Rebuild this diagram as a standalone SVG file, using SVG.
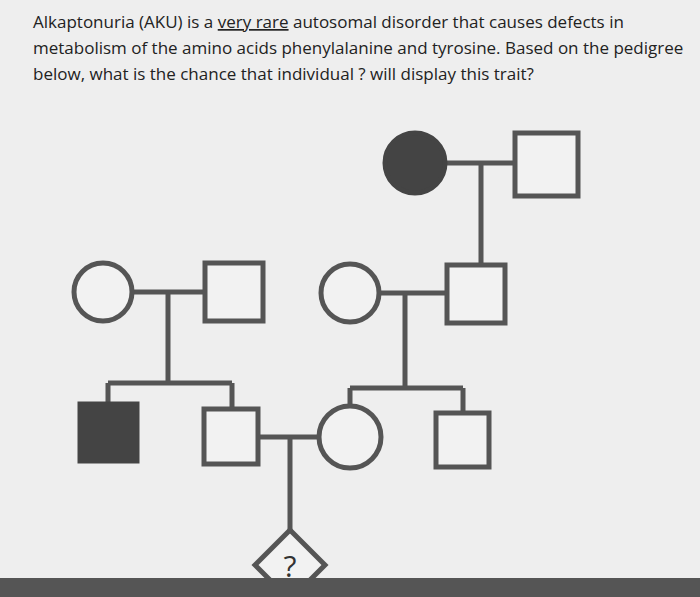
<svg xmlns="http://www.w3.org/2000/svg" width="700" height="597" viewBox="0 0 700 597">
<style>
.t{font-family:"Open Sans","Liberation Sans",sans-serif;font-size:17px;fill:#222}
.s{fill:#f2f2f2;stroke:#555;stroke-width:5}
.f{fill:#444;stroke:#444;stroke-width:5}
.c path{fill:none;stroke:#555;stroke-width:5}
</style>
<rect width="700" height="597" fill="#eeeeee"/>
<text class="t" x="33" y="28">Alkaptonuria (AKU) is a <tspan text-decoration="underline">very rare</tspan> autosomal disorder that causes defects in</text>
<text class="t" x="33" y="54">metabolism of the amino acids phenylalanine and tyrosine.  Based on the pedigree</text>
<text class="t" x="33" y="80">below, what is the chance that individual ? will display this trait?</text>
<g class="c" id="connectors">
<path d="M447 163H515M481 163V265"/>
<path d="M133 292H205M168 292V383M108 383H232M108 383V402M232 383V407"/>
<path d="M380 293H447M405 293V388M350 388H463M350 388V405M463 388V412"/>
<path d="M258 437H318M290 437V530"/>
</g>
<g id="gp1"><circle class="f" cx="415" cy="163" r="30"/></g>
<g id="gp2"><rect class="s" x="515" y="133" width="63" height="63"/></g>
<g id="p1"><circle class="s" cx="103" cy="292" r="29"/></g>
<g id="p2"><rect class="s" x="205" y="263" width="58" height="58"/></g>
<g id="p3"><circle class="s" cx="350" cy="293" r="29"/></g>
<g id="p4"><rect class="s" x="447" y="265" width="58" height="58"/></g>
<g id="c1"><rect class="f" x="80" y="404" width="57" height="57"/></g>
<g id="c2"><rect class="s" x="204" y="409" width="54" height="55"/></g>
<g id="c3"><circle class="s" cx="350" cy="437" r="31"/></g>
<g id="c4"><rect class="s" x="436" y="413" width="53" height="54"/></g>
<g id="q"><polygon class="s" points="290,530 325,565 290,600 255,565"/>
<text x="290" y="577" text-anchor="middle" style="font-family:'Open Sans','Liberation Sans',sans-serif;font-size:30px;fill:#333">?</text></g>
<rect x="0" y="578" width="700" height="19" fill="#555"/>
</svg>
